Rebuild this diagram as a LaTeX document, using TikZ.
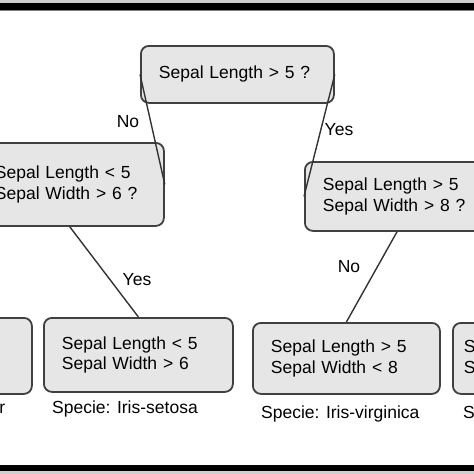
\documentclass[tikz,border=0pt]{standalone}
\usepackage{fontspec}
\setmainfont{Liberation Sans}
\definecolor{boxfill}{HTML}{E6E6E6}
\definecolor{boxline}{HTML}{404040}
\definecolor{connclr}{HTML}{333333}
\definecolor{bandgray}{HTML}{CFCFCF}
\begin{document}
\begin{tikzpicture}[x=1pt,y=-1pt,
  box/.style={draw=boxline, line width=1.8pt, fill=boxfill, rounded corners=8pt,
    anchor=north west, align=left, inner xsep=18pt, inner ysep=0pt,
    font=\fontsize{17.5}{20.5}\selectfont},
  conn/.style={draw=connclr, line width=1.4pt},
  lab/.style={font=\fontsize{17.5}{20.5}\selectfont, inner sep=0pt}]
\useasboundingbox (0,0) rectangle (474,474);
\clip (0,0) rectangle (474,474);
% frame bands
\fill[bandgray] (0,0) rectangle (474,3);
\fill[black] (0,2.5) rectangle (474,10);
\fill[gray] (0,10) rectangle (474,11);
\fill[black] (0,464.5) rectangle (474,471);
\fill[bandgray] (0,471) rectangle (474,474);
% boxes
\node[box, text width=157pt, minimum height=57pt] (top) at (140,45) {Sepal Length > 5 ?};
\node[box, text width=151pt, minimum height=83pt] (left) at (-24,142) {Sepal Length < 5\\Sepal Width > 6 ?};
\node[box, text width=164pt, minimum height=69pt] (right) at (304,161) {Sepal Length > 5\\Sepal Width > 8 ?};
\node[box, minimum width=191pt, minimum height=76pt] (farleft) at (-160,317) {};
\node[box, text width=153pt, minimum height=74pt] (setosa) at (43,317) {Sepal Length < 5\\Sepal Width > 6};
\node[box, text width=151pt, minimum height=71pt] (virg) at (252,322) {Sepal Length > 5\\Sepal Width < 8};
\node[box, inner xsep=11pt, text width=168pt, minimum height=71pt] (farright) at (452,322) {Sepal Length > 5\\Sepal Width > 8};
% connectors
\draw[conn] (top.west) -- (left.east);
\draw[conn] (top.east) -- (right.west);
\draw[conn] ([xshift=-95pt]left.south east) -- (setosa.north);
\draw[conn] ([xshift=93pt]right.south west) -- (virg.north);
% edge labels
\node[lab] (l1) at (128,122) {No};
\node[lab] (l2) at (339,130) {Yes};
\node[lab] (l3) at (137,280) {Yes};
\node[lab] (l4) at (349,267) {No};
% species labels
\node[lab, anchor=base east] (s0) at (5.5,413) {Specie: Iris-versicolor};
\node[lab, anchor=base west] (s1) at (52,413) {Specie: Iris-setosa};
\node[lab, anchor=base west] (s2) at (261,418) {Specie: Iris-virginica};
\node[lab, anchor=base west] (s3) at (463,418) {Specie: Iris-versicolor};
\end{tikzpicture}
\end{document}
